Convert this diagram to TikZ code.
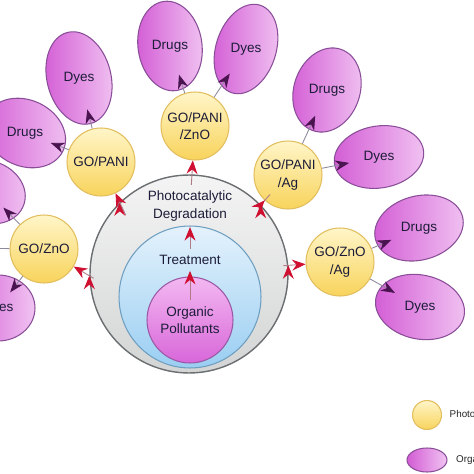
\documentclass[tikz,border=0pt]{standalone}
\usepackage{fontspec}
\setmainfont{Liberation Sans}
\usetikzlibrary{arrows.meta,shapes.geometric,positioning}
\definecolor{ringedge}{HTML}{6B6F71}
\definecolor{ringlight}{HTML}{F4F4F4}
\definecolor{ringdeep}{HTML}{D3D5D5}
\definecolor{treatedge}{HTML}{6E9EC0}
\definecolor{treatlight}{HTML}{E4F2FC}
\definecolor{treatdeep}{HTML}{9ACEF2}
\definecolor{orgedge}{HTML}{9A58A4}
\definecolor{orglight}{HTML}{F3B8F1}
\definecolor{orgdeep}{HTML}{D867D9}
\definecolor{photoedge}{HTML}{E2BE5E}
\definecolor{photolight}{HTML}{FFF5C8}
\definecolor{photodeep}{HTML}{F8D45C}
\definecolor{pollutedge}{HTML}{8A4E98}
\definecolor{pollutdeep}{HTML}{D35CD5}
\definecolor{pollutlight}{HTML}{F1C4F2}
\definecolor{arrred}{HTML}{D01030}
\definecolor{redline}{HTML}{B07A86}
\definecolor{arrpurple}{HTML}{4A1450}
\definecolor{purpline}{HTML}{8E8A9E}
\definecolor{labelink}{HTML}{1C1C38}
\begin{document}
\begin{tikzpicture}[
		x=0.02cm,y=-0.02cm,
		every node/.style = {font=\fontsize{7.7}{9.8}\selectfont, text=labelink, align=center},
		photo/.style = {circle, draw=photoedge, line width=0.6pt, top color=photolight, bottom color=photodeep, minimum size=1.36cm, inner sep=0pt},
		pollutant/.style = {ellipse, draw=pollutedge, line width=0.6pt, left color=pollutdeep, right color=pollutlight, inner sep=0pt},
		legtext/.style = {font=\fontsize{5.6}{6.6}\selectfont, text=black!85},
		toPhoto/.style = {-{Stealth[length=0.27cm,width=0.22cm,inset=0.09cm,color=arrred]}, draw=redline, line width=0.5pt},
		toPollut/.style = {-{Stealth[length=0.28cm,width=0.21cm,inset=0.09cm,color=arrpurple]}, draw=purpline, line width=0.5pt, shorten >=-0.3cm}
	]
	\useasboundingbox (0,0) rectangle (474,474);
	\clip (0,0) rectangle (474,474);
	% nested rings
	\node (ringPhoto) [circle, draw=ringedge, line width=0.8pt, top color=ringlight, bottom color=ringdeep, minimum size=3.96cm] at (189,274) {};
	\node (ringTreat) [circle, draw=treatedge, line width=0.6pt, top color=treatlight, bottom color=treatdeep, minimum size=2.84cm] at (190,297) {};
	\node (ringOrg) [circle, draw=orgedge, line width=0.6pt, top color=orglight, bottom color=orgdeep, minimum size=1.72cm] at (190,320) {};
	\node (txtDegr) at (190,206) {Photocatalytic\\Degradation};
	\node (txtTreat) at (190,260) {Treatment};
	\node (txtOrg) at (190,320) {Organic\\Pollutants};
	% photocatalysts
	\node (gopzn) [photo] at (195,126) {GO/PANI\\/ZnO};
	\node (gopani) [photo] at (101,162) {GO/PANI};
	\node (gopag) [photo] at (288,175) {GO/PANI\\/Ag};
	\node (gozag) [photo] at (340,262) {GO/ZnO\\/Ag};
	\node (gozn) [photo] at (44,249) {GO/ZnO};
	% pollutants
	\node (drugsPZ) [pollutant, minimum width=1.28cm, minimum height=1.8cm, rotate=8] at (170,46) {};
	\node (drugsPZtxt) at (drugsPZ) {Drugs};
	\node (dyesPZ) [pollutant, minimum width=1.2cm, minimum height=1.84cm, rotate=-18] at (246,49) {};
	\node (dyesPZtxt) at (dyesPZ) {Dyes};
	\node (drugsPA) [pollutant, minimum width=1.32cm, minimum height=1.72cm, rotate=-19] at (327,90) {};
	\node (drugsPAtxt) at (drugsPA) {Drugs};
	\node (dyesPA) [pollutant, minimum width=1.8cm, minimum height=1.24cm, rotate=9] at (379,157) {};
	\node (dyesPAtxt) at (dyesPA) {Dyes};
	\node (drugsZA) [pollutant, minimum width=1.8cm, minimum height=1.28cm, rotate=15] at (419,228) {};
	\node (drugsZAtxt) at (drugsZA) {Drugs};
	\node (dyesZA) [pollutant, minimum width=1.8cm, minimum height=1.28cm, rotate=-12] at (420,307) {};
	\node (dyesZAtxt) at (dyesZA) {Dyes};
	\node (dyesPN) [pollutant, minimum width=1.28cm, minimum height=1.88cm, rotate=14] at (79,78) {};
	\node (dyesPNtxt) at (dyesPN) {Dyes};
	\node (drugsPN) [pollutant, minimum width=1.68cm, minimum height=1.32cm, rotate=-25] at (25,133) {};
	\node (drugsPNtxt) at (drugsPN) {Drugs};
	\node (edgeZN) [pollutant, minimum width=1.52cm, minimum height=1.24cm, rotate=-20] at (-12,192) {};
	\node (dyesZN) [pollutant, minimum width=1.48cm, minimum height=1.32cm] at (-2,308) {};
	\node (dyesZNtxt) at (dyesZN) {Dyes};
	\coordinate (offZN) at (-40,248);
	% legend
	\node (legPhoto) [photo, minimum size=0.58cm] at (427,415) {};
	\node (legPhotoTxt) [legtext, right=0.03cm of legPhoto] {Photo-catalysts};
	\node (legOrg) [pollutant, minimum width=0.8cm, minimum height=0.48cm] at (427,460) {};
	\node (legOrgTxt) [legtext, right=0.05cm of legOrg] {Organic pollutants};

	\path [toPhoto] (txtOrg) edge (txtTreat);
	\path [toPhoto] (txtTreat) edge (txtDegr);
	\path [toPhoto] (txtDegr) edge (gopzn);
	\path [toPhoto, shorten <=-0.28cm] (ringPhoto.134) edge (gopani);
	\path [toPhoto, shorten <=-0.28cm] (ringPhoto.44) edge (gopag);
	\path [toPhoto, shorten <=-0.1cm] (ringPhoto.5) edge (gozag);
	\path [toPhoto, shorten <=-0.1cm] (ringPhoto.181) edge (gozn);
	\path [toPollut] (gopzn) edge (drugsPZ);
	\path [toPollut] (gopzn) edge (dyesPZ);
	\path [toPollut] (gopag) edge (drugsPA);
	\path [toPollut] (gopag) edge (dyesPA);
	\path [toPollut] (gozag) edge (drugsZA);
	\path [toPollut] (gozag) edge (dyesZA);
	\path [toPollut] (gopani) edge (dyesPN);
	\path [toPollut] (gopani) edge (drugsPN);
	\path [toPollut] (gozn) edge (edgeZN);
	\path [toPollut] (gozn) edge (dyesZN);
	\path [toPollut] (gozn) edge (offZN);
\end{tikzpicture}
\end{document}
